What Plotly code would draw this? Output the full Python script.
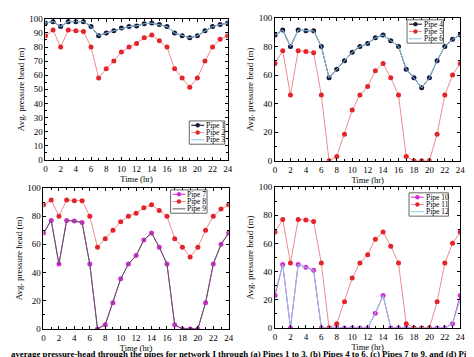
import plotly.graph_objects as go

hours = list(range(25))

pipe1 = [97, 98, 94.5, 98, 98, 98, 94.5, 88, 90, 91.5, 93.5, 94.5, 95, 96.5, 97, 96, 94.5, 90, 88, 86.5, 88, 91.5, 94.5, 96, 97]
pipe2 = [88, 92, 80, 92, 91.5, 91, 80, 58, 64.5, 70, 76.5, 80, 82.5, 86.5, 88.5, 84.5, 80, 64.5, 58, 51.5, 58, 70, 80, 85.5, 88]
pipe3 = pipe1

pipe4 = [88, 91.5, 80, 91.5, 91, 91, 80, 58, 64, 70, 76, 80, 82, 86, 88, 84, 80, 64, 58, 51, 58, 70, 80, 85, 88]
pipe5 = [68, 77, 46, 77, 76.5, 75.5, 46, 0, 3, 18.5, 35.5, 46, 52, 63, 68, 58, 46, 3, 0, 0, 0, 18.5, 46, 60, 68]
pipe6 = pipe4

pipe7 = pipe5
pipe8 = pipe4
pipe9 = pipe5

pipe10 = [23, 45, 0, 45, 43, 41, 0, 0, 0, 0, 0, 0, 0, 10.5, 23, 0, 0, 0, 0, 0, 0, 0, 0, 3, 23]
pipe11 = pipe5
pipe12 = [25, 45, 0, 45, 43, 41, 0, 0, 0, 0, 0, 0, 0, 10.5, 23, 0, 0, 0, 0, 0, 0, 0, 0, 3, 20]

x_ticks = list(range(0, 25, 2))
caption = ("average pressure-head through the pipes for network I through (a) Pipes 1 to 3, "
           "(b) Pipes 4 to 6, (c) Pipes 7 to 9, and (d) Pipes 10 to 12.")

W, H = 474, 357
FONT = "Liberation Serif"

NAVY = "#15183a"
RED = "#e3242b"
PINK = "#f08a90"
LBLUE = "#8cc6e6"
MAG = "#d42ad4"
GRAY = "#5a5a5a"

fig = go.Figure()

def fx(p):
    return p / W

def fy(p):
    return 1 - p / H

panels = [
    # (x0,x1,y0,y1, ydtick, yminor, legend box (x,y,w,h) px)
    (36, 221, 6, 151, 10, 5, (182, 111, 36, 24)),
    (269, 457, 5, 152, 20, 10, (403, 7, 37, 24)),
    (34, 222, 180, 325, 20, 10, (163, 182, 37, 24)),
    (269, 457, 179, 324, 20, 10, (405, 185, 40, 24)),
]

series = [
    [("Pipe 1", pipe1, NAVY, "black", True), ("Pipe 2", pipe2, RED, PINK, True), ("Pipe 3", pipe3, None, LBLUE, False)],
    [("Pipe 4", pipe4, NAVY, "black", True), ("Pipe 5", pipe5, RED, PINK, True), ("Pipe 6", pipe6, None, LBLUE, False)],
    [("Pipe 7", pipe7, MAG, MAG, True), ("Pipe 8", pipe8, RED, PINK, True), ("Pipe 9", pipe9, None, GRAY, False)],
    [("Pipe 10", pipe10, MAG, MAG, True), ("Pipe 11", pipe11, RED, PINK, True), ("Pipe 12", pipe12, None, LBLUE, False)],
]

layout = {}
shapes = []
annots = []
for i, (p, ser) in enumerate(zip(panels, series)):
    x0, x1, y0, y1, ydt, ymn, (lx, ly, lw, lh) = p
    n = "" if i == 0 else str(i + 1)
    xa, ya = "x" + n, "y" + n
    for name, vals, mcol, lcol, markers in ser:
        fig.add_trace(go.Scatter(
            x=hours, y=vals, name=name, xaxis=xa, yaxis=ya, showlegend=False,
            mode="lines+markers" if markers else "lines",
            line=dict(color=lcol, width=1),
            marker=dict(color=mcol, size=5, symbol="circle") if markers else None,
        ))
    axis_common = dict(showline=True, linecolor="black", linewidth=1, mirror="ticks",
                       ticks="inside", ticklen=3, tickcolor="black", showgrid=False, zeroline=False,
                       tickfont=dict(family=FONT, size=9, color="black"))
    layout["xaxis" + n] = dict(axis_common, domain=[fx(x0), fx(x1)], anchor=ya, range=[0, 24],
                               tickvals=x_ticks, ticktext=[str(v) for v in x_ticks],
                               minor=dict(ticks="inside", ticklen=2, dtick=1, tickcolor="black", showgrid=False),
                               title=dict(text="Time (hr)", font=dict(family=FONT, size=8.5, color="black"), standoff=0))
    layout["yaxis" + n] = dict(axis_common, domain=[fy(y1), fy(y0)], anchor=xa, range=[0, 100],
                               dtick=ydt, tick0=0,
                               minor=dict(ticks="inside", ticklen=2, dtick=ymn, tickcolor="black", showgrid=False),
                               title=dict(text="Avg. pressure head (m)", font=dict(family=FONT, size=9, color="black"), standoff=3))
    # custom compact legend
    shapes.append(dict(type="rect", xref="paper", yref="paper",
                       x0=fx(lx), x1=fx(lx + lw), y0=fy(ly + lh), y1=fy(ly),
                       fillcolor="white", line=dict(color="#666", width=1), layer="above"))
    for k, (name, vals, mcol, lcol, markers) in enumerate(ser):
        ry = ly + 4.5 + k * 7.5
        shapes.append(dict(type="line", xref="paper", yref="paper",
                           x0=fx(lx + 2), x1=fx(lx + 15), y0=fy(ry), y1=fy(ry),
                           line=dict(color=lcol, width=1), layer="above"))
        if markers:
            shapes.append(dict(type="circle", xref="paper", yref="paper",
                               x0=fx(lx + 6.5), x1=fx(lx + 10.5), y0=fy(ry + 2), y1=fy(ry - 2),
                               fillcolor=mcol, line=dict(color=mcol, width=0.5), layer="above"))
        annots.append(dict(text=name, xref="paper", yref="paper", x=fx(lx + 16), y=fy(ry),
                           xanchor="left", yanchor="middle", showarrow=False, borderpad=0,
                           font=dict(family=FONT, size=7.5, color="black")))

fig.update_layout(**layout)
annots.append(dict(text="<b>" + caption + "</b>", xref="paper", yref="paper", x=0, y=0,
                   xanchor="left", yanchor="bottom", showarrow=False, borderpad=0,
                   font=dict(family=FONT, size=8.8, color="black")))
fig.update_layout(width=W, height=H, margin=dict(l=0, r=0, t=0, b=0),
                  paper_bgcolor="white", plot_bgcolor="white", showlegend=False,
                  shapes=shapes, annotations=annots)
fig.write_html("out.html")
